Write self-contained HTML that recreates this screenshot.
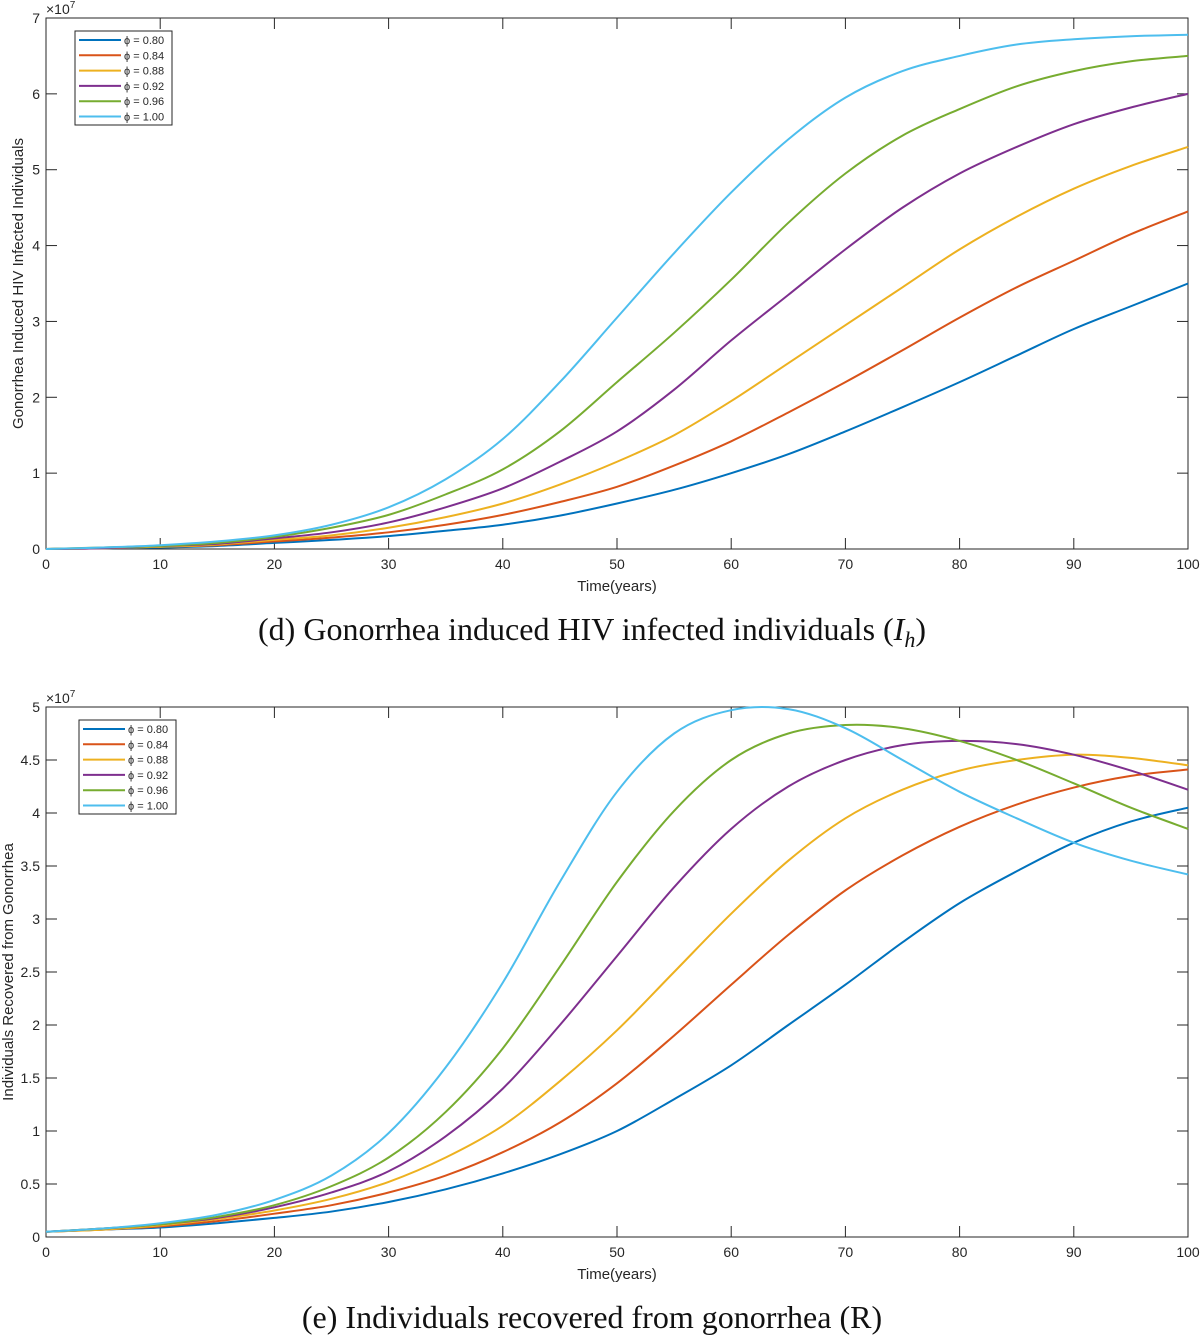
<!DOCTYPE html>
<html><head><meta charset="utf-8"><style>
body{margin:0;background:#fff;}
svg text{font-family:"Liberation Sans",sans-serif;fill:#262626;}
</style></head><body>
<svg width="1200" height="1335" xmlns="http://www.w3.org/2000/svg">
<g id="p1"></g>
<g id="p2"></g>
<text x="592" y="640" text-anchor="middle" style="font-family:'Liberation Serif',serif;font-size:32px;fill:#111">(d) Gonorrhea induced HIV infected individuals (<tspan font-style="italic">I</tspan><tspan font-style="italic" font-size="22" dy="7">h</tspan><tspan dy="-7">)</tspan></text>
<text x="592" y="1328" text-anchor="middle" style="font-family:'Liberation Serif',serif;font-size:32px;fill:#111">(e) Individuals recovered from gonorrhea (R)</text>
</svg>
<script>
const years=[0,5,10,15,20,25,30,35,40,45,50,55,60,65,70,75,80,85,90,95,100];
const labels=["\u03d5 = 0.80","\u03d5 = 0.84","\u03d5 = 0.88","\u03d5 = 0.92","\u03d5 = 0.96","\u03d5 = 1.00"];
const colors=["#0072BD","#D95319","#EDB120","#7E2F8E","#77AC30","#4DBEEE"];
const ih080=[0,.01,.02,.04,.08,.12,.17,.24,.32,.44,.6,.78,1.0,1.25,1.55,1.87,2.2,2.55,2.9,3.2,3.5];
const ih084=[0,.01,.03,.05,.1,.15,.22,.32,.45,.62,.82,1.1,1.42,1.8,2.2,2.62,3.05,3.45,3.8,4.15,4.45];
const ih088=[0,.01,.03,.06,.12,.18,.28,.42,.6,.85,1.15,1.5,1.95,2.45,2.95,3.45,3.95,4.38,4.75,5.05,5.3];
const ih092=[0,.01,.04,.07,.14,.22,.35,.55,.8,1.15,1.55,2.1,2.75,3.35,3.95,4.5,4.95,5.3,5.6,5.82,6.0];
const ih096=[0,.02,.04,.08,.16,.28,.45,.72,1.05,1.55,2.2,2.85,3.55,4.3,4.95,5.45,5.8,6.1,6.3,6.43,6.5];
const ih100=[0,.02,.05,.1,.18,.32,.55,.92,1.45,2.2,3.05,3.9,4.7,5.4,5.95,6.3,6.5,6.65,6.72,6.76,6.78];
const r080=[.05,.07,.09,.13,.18,.24,.33,.45,.6,.78,1.0,1.3,1.62,2.0,2.38,2.78,3.15,3.45,3.72,3.92,4.05];
const r084=[.05,.07,.1,.15,.22,.3,.42,.58,.8,1.08,1.45,1.9,2.38,2.85,3.27,3.6,3.87,4.08,4.24,4.35,4.41];
const r088=[.05,.07,.11,.17,.25,.36,.52,.75,1.05,1.47,1.95,2.5,3.05,3.55,3.95,4.22,4.4,4.5,4.55,4.52,4.45];
const r092=[.05,.08,.12,.18,.28,.42,.62,.95,1.4,2.0,2.65,3.3,3.85,4.25,4.5,4.64,4.68,4.65,4.55,4.4,4.22];
const r096=[.05,.08,.12,.19,.3,.48,.75,1.18,1.78,2.55,3.35,4.02,4.5,4.75,4.83,4.8,4.68,4.5,4.28,4.05,3.85];
const r100=[.05,.08,.13,.21,.35,.58,.98,1.6,2.4,3.35,4.2,4.75,4.97,4.98,4.8,4.5,4.2,3.95,3.72,3.55,3.42];
const xTicks=[0,10,20,30,40,50,60,70,80,90,100];
const y1Ticks=[0,1,2,3,4,5,6,7];
const y2Ticks=[0,0.5,1,1.5,2,2.5,3,3.5,4,4.5,5];
const NS="http://www.w3.org/2000/svg";
function mk(p,t,a){const e=document.createElementNS(NS,t);for(const k in a)e.setAttribute(k,a[k]);p.appendChild(e);return e;}
function plot(g,series,yTicks,ymax,top,bot,ylabel,ylx,leg){
 const L=46,R=1188;
 const sx=v=>L+(R-L)*v/100, sy=v=>bot-(bot-top)*v/ymax;
 const box=mk(g,'rect',{x:L,y:top,width:R-L,height:bot-top,fill:'none',stroke:'#262626','stroke-width':1});
 
 
 xTicks.forEach(t=>{
  mk(g,'line',{x1:sx(t),x2:sx(t),y1:bot,y2:bot-11,stroke:'#262626'});
  mk(g,'line',{x1:sx(t),x2:sx(t),y1:top,y2:top+11,stroke:'#262626'});
  const tx=mk(g,'text',{x:sx(t),y:bot+20,'text-anchor':'middle','font-size':14});tx.textContent=t;
  
  
 });
 yTicks.forEach(t=>{
  mk(g,'line',{x1:L,x2:L+11,y1:sy(t),y2:sy(t),stroke:'#262626'});
  mk(g,'line',{x1:R,x2:R-11,y1:sy(t),y2:sy(t),stroke:'#262626'});
  const tx=mk(g,'text',{x:L-6,y:sy(t)+5,'text-anchor':'end','font-size':14});tx.textContent=t;
  
  
 });
 const ex=mk(g,'text',{x:L,y:top-4,'font-size':14});ex.innerHTML='\u00d710<tspan dy="-6" font-size="10">7</tspan>';
 
 
 const xl=mk(g,'text',{x:(L+R)/2,y:bot+42,'text-anchor':'middle','font-size':15});xl.textContent='Time(years)';
 
 
 const yl=mk(g,'text',{x:0,y:0,'text-anchor':'middle','font-size':15,transform:`translate(${ylx},${(top+bot)/2}) rotate(-90)`});yl.textContent=ylabel;
 
 
 series.forEach((s,i)=>{
  const P=years.map((y,j)=>[sx(y),sy(s[j])]);
  let d=`M${P[0][0]},${P[0][1]}`;
  for(let j=0;j<P.length-1;j++){
   const p0=P[Math.max(j-1,0)],p1=P[j],p2=P[j+1],p3=P[Math.min(j+2,P.length-1)];
   d+=` C${p1[0]+(p2[0]-p0[0])/6},${p1[1]+(p2[1]-p0[1])/6} ${p2[0]-(p3[0]-p1[0])/6},${p2[1]-(p3[1]-p1[1])/6} ${p2[0]},${p2[1]}`;
  }
  const pa=mk(g,'path',{d,fill:'none',stroke:colors[i],'stroke-width':2});
  
  
 });
 const lg=mk(g,'g',{});
 
 
 mk(lg,'rect',{x:leg[0],y:leg[1],width:97,height:94,fill:'#fff',stroke:'#262626','stroke-width':1});
 labels.forEach((lb,i)=>{
  const yy=leg[1]+9+i*15.3;
  mk(lg,'line',{x1:leg[0]+4,x2:leg[0]+46,y1:yy,y2:yy,stroke:colors[i],'stroke-width':2});
  const t=mk(lg,'text',{x:leg[0]+49,y:yy+4,'font-size':11});t.textContent=lb;
  
  
 });
}
plot(document.getElementById('p1'),[ih080,ih084,ih088,ih092,ih096,ih100],y1Ticks,7,18,549,'Gonorrhea Induced HIV Infected Individuals',23,[75,31]);
plot(document.getElementById('p2'),[r080,r084,r088,r092,r096,r100],y2Ticks,5,707,1237,'Individuals Recovered from Gonorrhea',13,[79,720]);
</script>
</body></html>
